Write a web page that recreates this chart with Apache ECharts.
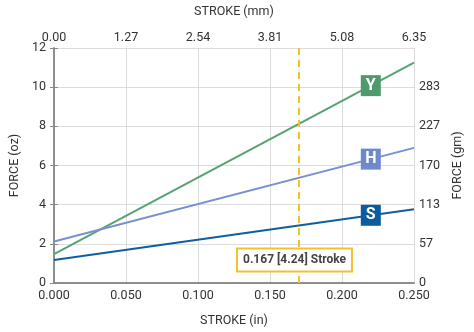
<!DOCTYPE html>
<html><head><meta charset="utf-8">
<script src="https://cdn.jsdelivr.net/npm/echarts@6/dist/echarts.min.js"></script>
<style>html,body{margin:0;padding:0;background:#fff}#c{width:474px;height:332px}</style>
</head><body><div id="c"></div>
<script>
var strokeIn = [0, 0.25];
var forceY = [1.48, 11.25];
var forceH = [2.12, 6.9];
var forceS = [1.17, 3.77];
var topLabels = ['0.00','1.27','2.54','3.81','5.08','6.35'];
var rightLabels = ['0','57','113','170','227','283','340'];
var seriesNames = ['Y','H','S'];
var markStroke = 0.167;
var markText = '0.167 [4.24] Stroke';
var tagX = 0.22;

var FONT = '"Liberation Sans Narrow", Roboto, sans-serif';
var txt = '#333';
function at(arr, x){ return arr[0] + (arr[1]-arr[0])*(x-strokeIn[0])/(strokeIn[1]-strokeIn[0]); }
function pts(arr){ return strokeIn.map(function(x,i){return [x,arr[i]];}); }
var colors = ['#55a372','#7890d0','#0f5fa0'];
var tagColors = ['#4e9a6c','#6f8acb','#0a5c9e'];
var datas = [forceY, forceH, forceS];

var series = datas.map(function(d,i){
  return {
    type:'line', name:seriesNames[i], data:pts(d), symbol:'none',
    lineStyle:{color:colors[i], width:2}, silent:true,
    markPoint:{
      symbol:'rect', symbolSize:[20,21], silent:true,
      itemStyle:{color:tagColors[i]},
      label:{show:true, formatter:seriesNames[i], color:'#fff', fontWeight:'bold', fontSize:16, fontFamily:FONT},
      data:[{coord:[tagX, at(d, tagX)]}]
    }
  };
});
series.push({
  type:'line', data:[], silent:true,
  markLine:{
    symbol:'none', silent:true,
    lineStyle:{color:'#f2c12e', type:[7,5], width:2},
    label:{show:false},
    data:[{xAxis:markStroke}]
  },
  markPoint:{
    symbol:'rect', symbolSize:1, silent:true, itemStyle:{color:'rgba(0,0,0,0)'},
    label:{show:true, formatter:markText, color:'#444', fontWeight:'bold', fontSize:12, fontFamily:FONT,
      backgroundColor:'#fff', borderColor:'#f2c12e', borderWidth:2, padding:[5,5,4,5]},
    data:[{coord:[markStroke, 1.17]}]
  }
});

var axisLine = {show:true, lineStyle:{color:'#888', width:1.5}};
var lbl = {color:txt, fontSize:12.5, fontFamily:FONT};
var nameStyle = {color:txt, fontSize:12.5, fontFamily:FONT};
var chart = echarts.init(document.getElementById('c'));
chart.setOption({
  animation:false,
  grid:{left:54, right:60, top:44, bottom:46},
  xAxis:[
    {type:'value', position:'bottom', min:0, max:0.25, interval:0.05,
     name:'STROKE (in)', nameLocation:'middle', nameGap:31, nameTextStyle:nameStyle,
     axisLine:axisLine, axisTick:{show:false},
     axisLabel:Object.assign({formatter:function(v){return v.toFixed(3);}, margin:6}, lbl),
     splitLine:{show:true, lineStyle:{color:'#dcdcdc', width:1}}},
    {type:'value', position:'top', min:0, max:0.25, interval:0.05,
     name:'STROKE (mm)', nameLocation:'middle', nameGap:30, nameTextStyle:nameStyle,
     axisLine:axisLine, axisTick:{show:false},
     axisLabel:Object.assign({formatter:function(v){return topLabels[Math.round(v/0.05)];}, margin:4}, lbl),
     splitLine:{show:false}}
  ],
  yAxis:[
    {type:'value', position:'left', min:0, max:12, interval:2,
     name:'FORCE (oz)', nameLocation:'middle', nameGap:30, nameTextStyle:nameStyle,
     axisLine:axisLine, axisTick:{show:true, length:4, inside:true, lineStyle:{color:'#888'}},
     axisLabel:Object.assign({margin:8}, lbl),
     splitLine:{show:true, lineStyle:{color:'#dcdcdc', width:1}}},
    {type:'value', position:'right', min:0, max:12, interval:2,
     name:'FORCE (gm)', nameLocation:'middle', nameGap:36, nameRotate:90, nameTextStyle:nameStyle,
     axisLine:axisLine, axisTick:{show:true, length:4, inside:true, lineStyle:{color:'#888'}},
     axisLabel:Object.assign({formatter:function(v){var i=Math.round(v/2); return i===6?'':rightLabels[i];}, margin:5}, lbl),
     splitLine:{show:false}}
  ],
  series:series
});
</script></body></html>
